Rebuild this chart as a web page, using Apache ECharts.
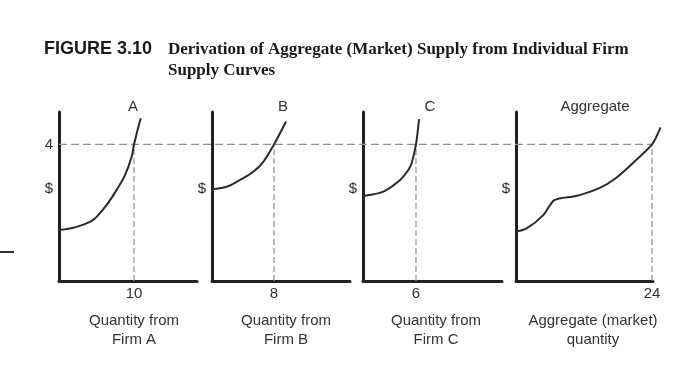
<!DOCTYPE html>
<html>
<head>
<meta charset="utf-8">
<script src="https://cdn.jsdelivr.net/npm/echarts@6/dist/echarts.min.js"></script>
<style>
html,body{margin:0;padding:0;background:#fff;}
#chart{width:700px;height:386px;}
</style>
</head>
<body>
<div id="chart"></div>
<script>
// ---- data ----
const figureLabel = 'FIGURE 3.10';
const figureTitle = 'Derivation of Aggregate (Market) Supply from Individual Firm\nSupply Curves';
const panelTitles = ['A', 'B', 'C', 'Aggregate'];
const axisNames = ['Quantity from\nFirm A', 'Quantity from\nFirm B', 'Quantity from\nFirm C', 'Aggregate (market)\nquantity'];
const priceLabel = '$';
const marketPrice = 4;
const quantityAtPrice = [10, 8, 6, 24];

const firmAQty   = [0, 1.91, 3.47, 4.36, 5.02, 6.36, 7.69, 8.8, 9.69, 10, 10.89];
const firmAPrice = [1.49, 1.56, 1.67, 1.76, 1.88, 2.23, 2.67, 3.10, 3.64, 4.0, 4.77];

const firmBQty   = [0, 1.89, 3.61, 5.33, 6.62, 8, 9.55];
const firmBPrice = [2.69, 2.76, 2.96, 3.20, 3.49, 4.0, 4.67];

const firmCQty   = [0, 2.3, 4.2, 5.13, 5.51, 6, 6.34];
const firmCPrice = [2.49, 2.62, 2.96, 3.25, 3.45, 4.0, 4.74];

const aggQty   = [0, 1.88, 4.82, 6.76, 10.6, 14.7, 17.6, 20.6, 24, 25.5];
const aggPrice = [1.44, 1.54, 1.93, 2.37, 2.49, 2.72, 3.01, 3.45, 4.0, 4.50];

const axisMax = [18.4, 17.8, 15.74, 24.17];
const curveMax = [18.4, 17.8, 15.74, 25.6];
const priceMax = 4.95;

// ---- layout/style ----
const gridLefts = [59, 212, 363, 516];
const gridWidths = [138, 138, 139, 137];
const gridTop = 112, gridBottom = 105;
const nameShift = [12, 10, 7, 17];
const curveSmooth = [0.4, 0.4, 0.3, 0.25];
const font = 'Liberation Sans, Arial, sans-serif';
const txt = '#333';
const axisColor = '#222';
const curveColor = '#2b2b2b';
const dashColor = '#8f8f8f';

const curves = [
  [firmAQty, firmAPrice],
  [firmBQty, firmBPrice],
  [firmCQty, firmCPrice],
  [aggQty, aggPrice]
];

const grids = [], xAxes = [], yAxes = [], series = [], titles = [];

titles.push({
  text: figureLabel, left: 39, top: 35,
  textStyle: {fontFamily: font, fontWeight: 'bold', fontSize: 18, color: '#1a1a1a'}
});
titles.push({
  text: figureTitle, left: 163, top: 34,
  textStyle: {fontFamily: 'Liberation Serif, Times New Roman, serif', fontWeight: 'bold', fontSize: 17, lineHeight: 21, color: '#1a1a1a'}
});

for (let i = 0; i < 4; i++) {
  grids.push({left: gridLefts[i], width: gridWidths[i], top: gridTop, bottom: gridBottom, containLabel: false});
  xAxes.push({
    type: 'value', gridIndex: i, min: 0, max: axisMax[i],
    axisLine: {show: true, onZero: false, lineStyle: {color: axisColor, width: 3}},
    axisTick: {show: false}, splitLine: {show: false},
    axisLabel: {customValues: [quantityAtPrice[i]], fontFamily: font, fontSize: 15, color: txt, margin: 5},
    name: axisNames[i], nameLocation: 'middle', nameGap: 30,
    nameTextStyle: {fontFamily: font, fontSize: 15, color: txt, lineHeight: 19, padding: [0, 0, 0, nameShift[i]]}
  });
  yAxes.push({
    type: 'value', gridIndex: i, min: 0, max: priceMax,
    axisLine: {show: true, onZero: false, lineStyle: {color: axisColor, width: 3}},
    axisTick: {show: false}, splitLine: {show: false},
    axisLabel: i === 0 ? {customValues: [marketPrice], fontFamily: font, fontSize: 15, color: txt, margin: 6} : {show: false},
    name: priceLabel, nameLocation: 'middle', nameRotate: 0, nameGap: 6, nameMoveOverlap: false,
    nameTextStyle: {fontFamily: font, fontSize: 15, color: txt, verticalAlign: 'bottom'}
  });
  titles.push({
    text: panelTitles[i], left: [128, 278, 425, 590][i], top: 94, textAlign: 'center',
    textStyle: {fontFamily: font, fontSize: 15, fontWeight: 'normal', color: txt}
  });
}

// overlay grids (hidden axes, same scales) so curves can run past the axis end
for (let i = 0; i < 4; i++) {
  const gi = 4 + i;
  grids.push({left: gridLefts[i], width: gridWidths[i] * curveMax[i] / axisMax[i], top: gridTop, bottom: gridBottom});
  xAxes.push({type: 'value', gridIndex: gi, min: 0, max: curveMax[i], show: false});
  yAxes.push({type: 'value', gridIndex: gi, min: 0, max: priceMax, show: false});
  const [qs, ps] = curves[i];
  series.push({
    type: 'line', xAxisIndex: gi, yAxisIndex: gi, symbol: 'none', clip: false,
    smooth: curveSmooth[i],
    lineStyle: {color: curveColor, width: 2},
    data: qs.map((q, k) => [q, ps[k]]), z: 3
  });
  series.push({
    type: 'line', xAxisIndex: gi, yAxisIndex: gi, symbol: 'none',
    lineStyle: {color: dashColor, width: 1.2, type: [6, 3]},
    data: [[quantityAtPrice[i], 0], [quantityAtPrice[i], marketPrice]], z: 2
  });
}

// overlay grid for the market price line spanning all panels
grids.push({left: gridLefts[0], right: 700 - (gridLefts[3] + gridWidths[3] * quantityAtPrice[3] / axisMax[3]), top: gridTop, bottom: gridBottom});
xAxes.push({type: 'value', gridIndex: 8, min: 0, max: 1, show: false});
yAxes.push({type: 'value', gridIndex: 8, min: 0, max: priceMax, show: false});
series.push({
  type: 'line', xAxisIndex: 8, yAxisIndex: 8, symbol: 'none',
  lineStyle: {color: dashColor, width: 1.2, type: [8, 4]},
  data: [[0, marketPrice], [1, marketPrice]], z: 1
});

const chart = echarts.init(document.getElementById('chart'), null, {renderer: 'canvas'});
chart.setOption({
  animation: false,
  backgroundColor: '#fff',
  title: titles,
  grid: grids,
  xAxis: xAxes,
  yAxis: yAxes,
  series: series,
  graphic: [{type: 'line', shape: {x1: 0, y1: 252, x2: 14, y2: 252}, style: {stroke: '#333', lineWidth: 2}}]
});
</script>
</body>
</html>
